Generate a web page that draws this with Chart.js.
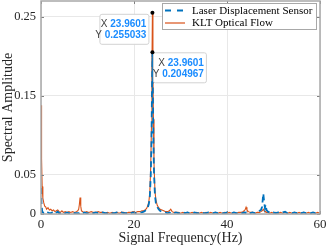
<!DOCTYPE html>
<html>
<head>
<meta charset="utf-8">
<script src="https://cdn.jsdelivr.net/npm/chart.js@4.4.1/dist/chart.umd.min.js"></script>
<style>
  html, body { margin: 0; padding: 0; background: #fff; }
  #spectrum { display: block; }
</style>
</head>
<body>
<canvas id="spectrum" width="326" height="249"></canvas>
<script>
// frequency bins (Hz)
const freqHz = [
  0, 0.12, 0.25, 0.4, 0.6, 0.8, 1.0, 1.2, 1.5, 1.8, 2.1, 2.4, 2.7, 3.0, 3.3, 3.6, 3.9, 4.2, 4.5, 4.8,
  5.2, 5.6, 6.0, 6.4, 6.8, 7.2, 7.6, 7.9, 8.1, 8.25, 8.4, 8.55, 8.7, 9.0, 9.4, 9.8, 10.3, 10.8, 11.3, 11.8,
  12.3, 12.8, 13.3, 13.8, 14.3, 14.8, 15.3, 15.8, 16.3, 16.8, 17.3, 17.8, 18.3, 18.8, 19.3, 19.8, 20.3, 20.8, 21.3, 21.7,
  22.1, 22.4, 22.7, 22.95, 23.2, 23.4, 23.6, 23.75, 23.85, 23.96, 24.07, 24.17, 24.3, 24.5, 24.7, 25.0, 25.3, 25.6, 26.0, 26.4,
  26.8, 27.2, 27.6, 27.9, 28.2, 28.6, 29.0, 29.5, 30, 30.5, 31, 31.5, 32, 32.5, 33, 33.5, 34, 34.5, 35, 35.5,
  36, 36.5, 37, 37.5, 38, 38.5, 39, 39.5, 40, 40.5, 41, 41.5, 42, 42.5, 43, 43.4, 43.7, 43.95, 44.1, 44.3,
  44.6, 45, 45.5, 46, 46.5, 47, 47.3, 47.55, 47.8, 48.0, 48.15, 48.3, 48.5, 48.8, 49.2, 49.6, 50, 50.5, 51, 51.5,
  52, 52.5, 53, 53.5, 54, 54.5, 55, 55.5, 56, 56.5, 57, 57.5, 58, 58.5, 59, 59.5, 60
];

const laserAmp = [
  0.033, 0.012, 0.004, 0.002, 0.001, 0.002, 0.001, 0.001, 0.002, 0.001, 0.001, 0.002, 0.003, 0.001, 0.002, 0.003, 0.001, 0.001, 0.002, 0.001,
  0.001, 0.002, 0.001, 0.001, 0.002, 0.001, 0.001, 0.001, 0.001, 0.001, 0.002, 0.001, 0.001, 0.001, 0.002, 0.001, 0.001, 0.002, 0.001, 0.002,
  0.001, 0.001, 0.002, 0.001, 0.001, 0.002, 0.001, 0.001, 0.002, 0.001, 0.002, 0.001, 0.001, 0.002, 0.001, 0.002, 0.001, 0.002, 0.002, 0.002,
  0.003, 0.004, 0.006, 0.008, 0.013, 0.022, 0.048, 0.088, 0.145, 0.204967, 0.145, 0.096, 0.052, 0.024, 0.014, 0.009, 0.006, 0.004, 0.003, 0.002,
  0.002, 0.001, 0.002, 0.001, 0.002, 0.001, 0.002, 0.001, 0.001, 0.002, 0.001, 0.002, 0.001, 0.001, 0.002, 0.001, 0.001, 0.002, 0.001, 0.001,
  0.002, 0.001, 0.001, 0.002, 0.001, 0.002, 0.001, 0.001, 0.002, 0.001, 0.001, 0.002, 0.001, 0.001, 0.002, 0.001, 0.002, 0.001, 0.002, 0.001,
  0.002, 0.001, 0.002, 0.001, 0.002, 0.004, 0.005, 0.009, 0.026, 0.015, 0.008, 0.012, 0.005, 0.003, 0.002, 0.001, 0.002, 0.001, 0.002, 0.001,
  0.002, 0.003, 0.001, 0.002, 0.001, 0.002, 0.001, 0.003, 0.001, 0.002, 0.001, 0.002, 0.001, 0.002, 0.001, 0.002, 0.001
];

const kltAmp = [
  0.138, 0.07, 0.035, 0.02, 0.014, 0.01, 0.009, 0.006, 0.008, 0.005, 0.006, 0.004, 0.005, 0.003, 0.004, 0.005, 0.003, 0.002, 0.004, 0.002,
  0.003, 0.002, 0.003, 0.002, 0.003, 0.002, 0.003, 0.004, 0.006, 0.012, 0.021, 0.01, 0.004, 0.003, 0.002, 0.003, 0.002, 0.003, 0.002, 0.002,
  0.003, 0.002, 0.002, 0.001, 0.002, 0.001, 0.002, 0.001, 0.002, 0.001, 0.002, 0.002, 0.001, 0.002, 0.002, 0.003, 0.002, 0.003, 0.003, 0.004,
  0.004, 0.005, 0.007, 0.01, 0.016, 0.027, 0.06, 0.11, 0.18, 0.255033, 0.18, 0.12, 0.065, 0.03, 0.018, 0.011, 0.008, 0.006, 0.005, 0.004,
  0.003, 0.003, 0.004, 0.006, 0.003, 0.002, 0.002, 0.002, 0.001, 0.002, 0.001, 0.002, 0.001, 0.002, 0.001, 0.002, 0.001, 0.002, 0.001, 0.002,
  0.001, 0.002, 0.001, 0.002, 0.001, 0.002, 0.001, 0.002, 0.001, 0.002, 0.001, 0.002, 0.001, 0.002, 0.002, 0.003, 0.004, 0.006, 0.0085, 0.005,
  0.003, 0.002, 0.002, 0.001, 0.002, 0.002, 0.003, 0.004, 0.006, 0.004, 0.003, 0.003, 0.002, 0.002, 0.001, 0.002, 0.001, 0.002, 0.001, 0.002,
  0.001, 0.002, 0.001, 0.002, 0.001, 0.002, 0.001, 0.002, 0.001, 0.002, 0.001, 0.002, 0.001, 0.002, 0.001, 0.002, 0.001
];

const yTicks = [0, 0.05, 0.15, 0.25];
const xTicks = [0, 20, 40, 60];
const seriesNames = ['Laser Displacement Sensor', 'KLT Optical Flow'];
const seriesColors = ['#0072BD', '#D95319'];
// data tips: [x, y] of the marked peaks
const dataTips = [[23.9601, 0.255033], [23.9601, 0.204967]];

const serif = "'Liberation Serif', 'Times New Roman', serif";

const toPoints = arr => arr.map((v, i) => ({ x: freqHz[i], y: v }));

const boxPlugin = {
  id: 'matlabBox',
  afterDatasetsDraw(chart) {
    const { ctx, chartArea: a, scales } = chart;
    ctx.save();
    // inward tick marks
    ctx.strokeStyle = '#808080';
    ctx.lineWidth = 1;
    ctx.beginPath();
    yTicks.forEach(t => {
      const y = Math.round(scales.y.getPixelForValue(t)) + 0.5;
      ctx.moveTo(a.left, y); ctx.lineTo(a.left + 3, y);
      ctx.moveTo(a.right, y); ctx.lineTo(a.right - 3, y);
    });
    xTicks.forEach(t => {
      const x = Math.round(scales.x.getPixelForValue(t)) + 0.5;
      ctx.moveTo(x, a.bottom); ctx.lineTo(x, a.bottom - 3);
      ctx.moveTo(x, a.top); ctx.lineTo(x, a.top + 3);
    });
    ctx.stroke();
    // box
    ctx.strokeStyle = '#a8a8a8';
    ctx.lineWidth = 1.5;
    ctx.strokeRect(a.left, a.top, a.right - a.left, a.bottom - a.top);
    ctx.restore();
  },
  afterDraw(chart) {
    const { ctx, scales } = chart;
    ctx.save();

    // data tips
    dataTips.forEach((tip, i) => {
      const px = scales.x.getPixelForValue(tip[0]);
      const py = scales.y.getPixelForValue(tip[1]);
      let bx, by, bw, bh = 30;
      if (i === 0) { bx = px - 53; by = py + 1; bw = 49; }
      else { bx = px + 0.5; by = py; bw = 53; }
      ctx.fillStyle = 'rgba(255,255,255,0.92)';
      ctx.strokeStyle = '#d2d2d2';
      ctx.lineWidth = 1;
      ctx.beginPath();
      ctx.roundRect(bx + 0.5, by + 0.5, bw, bh, 2);
      ctx.fill();
      ctx.stroke();
      const rightX = bx + bw - 2;
      const rows = [['X ', tip[0].toString()], ['Y ', tip[1].toString()]];
      rows.forEach((r, k) => {
        const ty = by + 10.5 + k * 11;
        ctx.textBaseline = 'middle';
        ctx.textAlign = 'right';
        ctx.font = "bold 10px 'Liberation Sans', Arial, sans-serif";
        ctx.fillStyle = '#1a8cff';
        ctx.fillText(r[1], rightX, ty);
        const w = ctx.measureText(r[1]).width;
        ctx.font = "10px 'Liberation Sans', Arial, sans-serif";
        ctx.fillStyle = '#404040';
        ctx.fillText(r[0], rightX - w, ty);
      });
      // marker
      ctx.fillStyle = '#000';
      ctx.beginPath();
      ctx.arc(px, py, 2, 0, Math.PI * 2);
      ctx.fill();
    });

    // legend
    const lx = 162, ly = 3, lw = 154, lh = 26;
    ctx.fillStyle = '#fff';
    ctx.fillRect(lx, ly, lw, lh);
    ctx.strokeStyle = '#a8a8a8';
    ctx.lineWidth = 1;
    ctx.strokeRect(lx + 0.5, ly + 0.5, lw, lh);
    seriesNames.forEach((name, i) => {
      const y = ly + 7.5 + i * 12.5;
      ctx.strokeStyle = seriesColors[i];
      ctx.lineWidth = i === 0 ? 2 : 1.2;
      ctx.setLineDash(i === 0 ? [6, 6] : []);
      ctx.beginPath();
      ctx.moveTo(lx + 3, y);
      ctx.lineTo(lx + 23, y);
      ctx.stroke();
      ctx.setLineDash([]);
      ctx.fillStyle = '#000';
      ctx.font = '11px ' + serif;
      ctx.textAlign = 'left';
      ctx.textBaseline = 'middle';
      ctx.fillText(name, lx + 30, y + 0.5);
    });
    ctx.restore();
  }
};

const ctx = document.getElementById('spectrum').getContext('2d');
const spectrumChart = new Chart(ctx, {
  type: 'line',
  data: {
    datasets: [
      {
        label: seriesNames[0],
        data: toPoints(laserAmp),
        borderColor: seriesColors[0],
        borderWidth: 1.8,
        borderDash: [6, 4],
        pointRadius: 0,
        tension: 0
      },
      {
        label: seriesNames[1],
        data: toPoints(kltAmp),
        borderColor: seriesColors[1],
        borderWidth: 1.1,
        pointRadius: 0,
        tension: 0
      }
    ]
  },
  options: {
    responsive: false,
    animation: false,
    devicePixelRatio: 1,
    layout: {
      padding: { left: 0, right: 6, top: 1, bottom: 0 }
    },
    plugins: {
      legend: { display: false },
      tooltip: { enabled: false }
    },
    scales: {
      x: {
        type: 'linear',
        min: 0,
        max: 60,
        afterBuildTicks: scale => { scale.ticks = xTicks.map(v => ({ value: v })); },
        afterFit: scale => {
          scale.height = 35;
          scale.paddingLeft = 0;
          scale.paddingRight = 0;
        },
        ticks: {
          color: '#262626',
          font: { family: serif, size: 13 },
          padding: 3,
          maxRotation: 0
        },
        grid: { color: '#e8e8e8', drawTicks: false },
        border: { display: false },
        title: {
          display: true,
          text: 'Signal Frequency(Hz)',
          color: '#262626',
          font: { family: serif, size: 14 },
          padding: { top: 0, bottom: 2 }
        }
      },
      y: {
        min: 0,
        max: 0.27,
        afterBuildTicks: scale => { scale.ticks = yTicks.map(v => ({ value: v })); },
        afterFit: scale => {
          scale.width = 41;
          scale.paddingTop = 0;
          scale.paddingBottom = 0;
        },
        ticks: {
          color: '#262626',
          font: { family: serif, size: 12.5 },
          padding: 5,
          callback: v => String(v)
        },
        grid: { color: '#e8e8e8', drawTicks: false },
        border: { display: false },
        title: {
          display: true,
          text: 'Spectral Amplitude',
          color: '#262626',
          font: { family: serif, size: 14 },
          padding: { top: 0, bottom: 0 }
        }
      }
    }
  },
  plugins: [boxPlugin]
});
</script>
</body>
</html>
